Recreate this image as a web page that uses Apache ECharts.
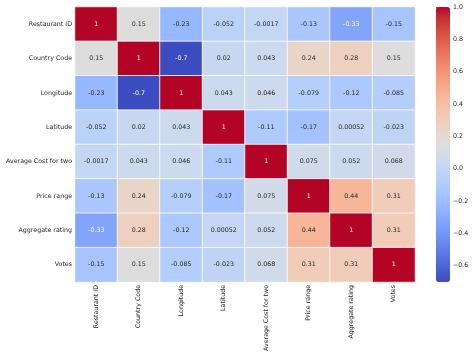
<!DOCTYPE html>
<html><head><meta charset="utf-8">
<script src="https://cdn.jsdelivr.net/npm/echarts@6/dist/echarts.min.js"></script>
<style>html,body{margin:0;padding:0;background:#fff}#c{width:474px;height:357px}</style>
</head><body><div id="c"></div>
<script>
const labels = ["Restaurant ID","Country Code","Longitude","Latitude","Average Cost for two","Price range","Aggregate rating","Votes"];
const rowRestaurantID = [1, 0.15, -0.23, -0.052, -0.0017, -0.13, -0.33, -0.15];
const rowCountryCode = [0.15, 1, -0.7, 0.02, 0.043, 0.24, 0.28, 0.15];
const rowLongitude = [-0.23, -0.7, 1, 0.043, 0.046, -0.079, -0.12, -0.085];
const rowLatitude = [-0.052, 0.02, 0.043, 1, -0.11, -0.17, 0.00052, -0.023];
const rowAvgCost = [-0.0017, 0.043, 0.046, -0.11, 1, 0.075, 0.052, 0.068];
const rowPriceRange = [-0.13, 0.24, -0.079, -0.17, 0.075, 1, 0.44, 0.31];
const rowAggregate = [-0.33, 0.28, -0.12, 0.00052, 0.052, 0.44, 1, 0.31];
const rowVotes = [-0.15, 0.15, -0.085, -0.023, 0.068, 0.31, 0.31, 1];
const colorbarTicks = [-0.6, -0.4, -0.2, 0.0, 0.2, 0.4, 0.6, 0.8, 1.0];
const vmin = -0.7, vmax = 1.0;

const rows = [rowRestaurantID,rowCountryCode,rowLongitude,rowLatitude,rowAvgCost,rowPriceRange,rowAggregate,rowVotes];

const cw = [[0.2298057,0.298717966,0.753683153],[0.26623388,0.353094838,0.801466763],[0.30386891,0.406535296,0.84495867],[0.342804478,0.458757618,0.883725899],[0.38301334,0.50941904,0.917387822],[0.424369608,0.558148092,0.945619588],[0.46666708,0.604562568,0.968154911],[0.509635204,0.648280772,0.98478814],[0.552953156,0.688929332,0.995375608],[0.596262162,0.726149107,0.999836203],[0.639176211,0.759599947,0.998151185],[0.681291281,0.788964712,0.990363227],[0.722193294,0.813952739,0.976574709],[0.761464949,0.834302879,0.956945269],[0.798691636,0.849786142,0.931688648],[0.833466556,0.860207984,0.901068838],[0.865395197,0.86541021,0.865395561],[0.897787179,0.848937047,0.820880546],[0.924127593,0.827384882,0.774508472],[0.944468518,0.800927443,0.726736146],[0.958852946,0.769767752,0.678007945],[0.96732803,0.734132809,0.628751763],[0.969954137,0.694266682,0.579375448],[0.966811177,0.650421156,0.530263762],[0.958003065,0.602842431,0.481775914],[0.943660866,0.551750968,0.434243684],[0.923944917,0.49730856,0.387970225],[0.89904617,0.439559467,0.343229596],[0.869186849,0.378313092,0.300267182],[0.834620542,0.312874446,0.259301199],[0.795631745,0.24128379,0.220525627],[0.752534934,0.157246067,0.184115123],[0.705673158,0.01555616,0.150232812]];
const cwHex = cw.map(c => '#' + c.map(v => Math.round(v*255).toString(16).padStart(2,'0')).join(''));

const data = [];
rows.forEach((r, yi) => r.forEach((v, xi) => data.push({
  value: [xi, yi, v],
  label: { color: (v >= 0.9 || v <= -0.3) ? '#ffffff' : '#262626' }
})));

const font = 'DejaVu Sans';
const fs = 6.3;
const chart = echarts.init(document.getElementById('c'), null, {renderer: 'canvas'});
chart.setOption({
  animation: false,
  backgroundColor: '#ffffff',
  textStyle: { fontFamily: font },
  grid: [
    { left: 75, top: 7, width: 340, height: 275 },
    { left: 436, top: 7, width: 14, height: 275 }
  ],
  xAxis: [
    { type: 'category', data: labels, gridIndex: 0,
      axisLine: { show: false }, splitLine: { show: false },
      axisTick: { alignWithLabel: true, length: 3, lineStyle: { color: '#262626', width: 0.8 } },
      axisLabel: { rotate: 90, fontSize: fs, fontFamily: font, color: '#262626', margin: 3, interval: 0 } },
    { type: 'value', gridIndex: 1, show: false, min: 0, max: 1 }
  ],
  yAxis: [
    { type: 'category', data: labels, gridIndex: 0, inverse: true,
      axisLine: { show: false }, splitLine: { show: false },
      axisTick: { alignWithLabel: true, length: 3, lineStyle: { color: '#262626', width: 0.8 } },
      axisLabel: { fontSize: fs, fontFamily: font, color: '#262626', margin: 3, interval: 0 } },
    { type: 'value', gridIndex: 1, position: 'right', min: vmin, max: vmax,
      axisLine: { show: false }, splitLine: { show: false },
      axisTick: { show: true, length: 3, customValues: colorbarTicks, lineStyle: { color: '#262626', width: 0.8 } },
      axisLabel: { fontSize: fs, fontFamily: font, color: '#262626', margin: 3, customValues: colorbarTicks,
        formatter: v => v.toFixed(1).replace('-', '\u2212') } }
  ],
  visualMap: {
    type: 'continuous', min: vmin, max: vmax, seriesIndex: 0,
    calculable: false, hoverLink: false, orient: 'vertical',
    left: 436, top: 7, itemWidth: 14, itemHeight: 275, padding: 0,
    text: null, showLabel: false,
    inRange: { color: cwHex }
  },
  series: [
    { type: 'heatmap', xAxisIndex: 0, yAxisIndex: 0, data: data,
      itemStyle: { borderColor: '#ffffff', borderWidth: 0.8 },
      label: { show: true, fontSize: fs, fontFamily: font, formatter: p => String(p.value[2]) },
      emphasis: { disabled: true } },
    { type: 'scatter', xAxisIndex: 1, yAxisIndex: 1, data: [] }
  ]
});
</script></body></html>
